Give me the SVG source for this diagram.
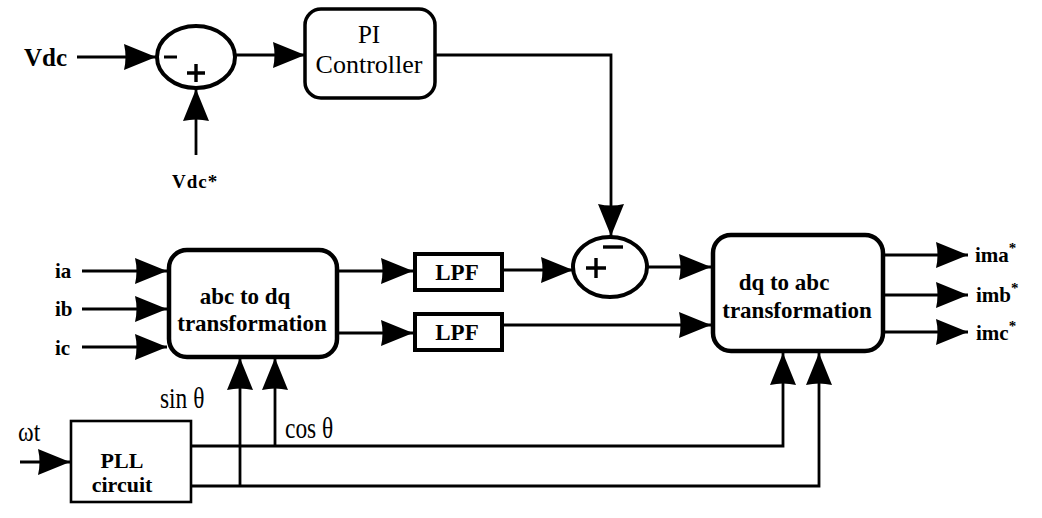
<svg xmlns="http://www.w3.org/2000/svg" width="1042" height="518" viewBox="0 0 1042 518">
<style>
.w{stroke:#000;stroke-width:2.8;fill:none}
.b{font-family:"Liberation Serif","Times New Roman",serif;font-weight:bold;fill:#000}
.r{font-family:"Liberation Serif","Times New Roman",serif;fill:#000}
</style>
<defs>
<marker id="a" markerUnits="userSpaceOnUse" markerWidth="32" markerHeight="26" refX="32" refY="13" orient="auto" viewBox="0 0 32 26">
<path d="M0,0 Q3,13 0,26 L32,13 Z" fill="#000"/>
</marker>
</defs>
<rect width="1042" height="518" fill="#fff"/>
<g id="connectors">
<path class="w" d="M77,57 H156" marker-end="url(#a)"/>
<path class="w" d="M196,155 V89" marker-end="url(#a)"/>
<path class="w" d="M236,55 H305" marker-end="url(#a)"/>
<path class="w" d="M435,55 H611 V236" marker-end="url(#a)"/>
<path class="w" d="M82,271 H167" marker-end="url(#a)"/>
<path class="w" d="M82,309 H167" marker-end="url(#a)"/>
<path class="w" d="M82,347 H167" marker-end="url(#a)"/>
<path class="w" d="M338,271 H413" marker-end="url(#a)"/>
<path class="w" d="M338,333 H413" marker-end="url(#a)"/>
<path class="w" d="M502,270 H573" marker-end="url(#a)"/>
<path class="w" d="M647,267 H711" marker-end="url(#a)"/>
<path class="w" d="M502,325 H711" marker-end="url(#a)"/>
<path class="w" d="M884,255 H968" marker-end="url(#a)"/>
<path class="w" d="M884,295 H968" marker-end="url(#a)"/>
<path class="w" d="M884,332 H968" marker-end="url(#a)"/>
<path class="w" d="M20,462 H70" marker-end="url(#a)"/>
<path class="w" d="M192,446 H783 V353" marker-end="url(#a)"/>
<path class="w" d="M192,486 H819 V353" marker-end="url(#a)"/>
<path class="w" d="M240,486 V358" marker-end="url(#a)"/>
<path class="w" d="M275,446 V358" marker-end="url(#a)"/>
</g>
<g id="vdc-label"><text class="b" x="24" y="66" font-size="25" font-family="Liberation Serif, serif">Vdc</text></g>
<g id="vdcstar-label"><text class="b" x="172" y="188" font-size="19" letter-spacing="1" font-family="Liberation Serif, serif">Vdc*</text></g>
<g id="sum1">
<ellipse cx="196" cy="57" rx="39" ry="31" fill="#fff" stroke="#000" stroke-width="4"/>
<path d="M164,57 H177" stroke="#000" stroke-width="3"/>
<path d="M187,73 H205 M196,64 V82" stroke="#000" stroke-width="3.4"/>
</g>
<g id="pi">
<rect x="305" y="9" width="130" height="89" rx="16" fill="#fff" stroke="#000" stroke-width="3.5"/>
<text class="r" x="369" y="43" font-size="25" text-anchor="middle" font-family="Liberation Serif, serif">PI</text>
<text class="r" x="369" y="73" font-size="26" text-anchor="middle" font-family="Liberation Serif, serif">Controller</text>
</g>
<g id="sum2">
<ellipse cx="610" cy="267" rx="37" ry="30" fill="#fff" stroke="#000" stroke-width="4"/>
<path d="M603,247 H623" stroke="#000" stroke-width="3.4"/>
<path d="M586,268 H606 M596,258 V278" stroke="#000" stroke-width="3.4"/>
</g>
<g id="inputs">
<text class="b" x="55" y="278" font-size="21" font-family="Liberation Serif, serif">ia</text>
<text class="b" x="55" y="316" font-size="21" font-family="Liberation Serif, serif">ib</text>
<text class="b" x="55" y="355" font-size="21" font-family="Liberation Serif, serif">ic</text>
</g>
<g id="abc2dq">
<rect x="169" y="250" width="168" height="107" rx="18" fill="#fff" stroke="#000" stroke-width="4.5"/>
<text class="b" x="245" y="304" font-size="23" text-anchor="middle" font-family="Liberation Serif, serif">abc to dq</text>
<text class="b" x="252" y="331" font-size="23" text-anchor="middle" font-family="Liberation Serif, serif">transformation</text>
</g>
<g id="lpf1">
<rect x="415" y="254" width="87" height="36" fill="#fff" stroke="#000" stroke-width="4"/>
<text class="b" x="457" y="280" font-size="23" text-anchor="middle" font-family="Liberation Serif, serif">LPF</text>
</g>
<g id="lpf2">
<rect x="415" y="314" width="87" height="36" fill="#fff" stroke="#000" stroke-width="4"/>
<text class="b" x="457" y="340" font-size="23" text-anchor="middle" font-family="Liberation Serif, serif">LPF</text>
</g>
<g id="dq2abc">
<rect x="713" y="235" width="170" height="116" rx="18" fill="#fff" stroke="#000" stroke-width="4.5"/>
<text class="b" x="784" y="290" font-size="23" text-anchor="middle" font-family="Liberation Serif, serif">dq to abc</text>
<text class="b" x="797" y="318" font-size="23" text-anchor="middle" font-family="Liberation Serif, serif">transformation</text>
</g>
<g id="outputs">
<text class="b" x="975" y="262" font-size="21" font-family="Liberation Serif, serif">ima<tspan dy="-9" font-size="15">*</tspan></text>
<text class="b" x="976" y="302" font-size="21" font-family="Liberation Serif, serif">imb<tspan dy="-9" font-size="15">*</tspan></text>
<text class="b" x="976" y="340" font-size="21" font-family="Liberation Serif, serif">imc<tspan dy="-9" font-size="15">*</tspan></text>
</g>
<g id="pll">
<rect x="71" y="421" width="120" height="81" fill="#fff" stroke="#000" stroke-width="2.6"/>
<text class="b" x="122" y="468" font-size="22" text-anchor="middle" font-family="Liberation Serif, serif">PLL</text>
<text class="b" x="122" y="492" font-size="22" text-anchor="middle" font-family="Liberation Serif, serif">circuit</text>
</g>
<g id="wt-label"><text class="r" x="18" y="441" font-size="28" font-family="Liberation Serif, serif" transform="translate(18 441) scale(0.85 1) translate(-18 -441)">ωt</text></g>
<g id="sin-label"><text class="r" x="160" y="408" font-size="30" font-family="Liberation Serif, serif" transform="translate(160 408) scale(0.78 1) translate(-160 -408)">sin θ</text></g>
<g id="cos-label"><text class="r" x="285" y="438" font-size="30" font-family="Liberation Serif, serif" transform="translate(285 438) scale(0.78 1) translate(-285 -438)">cos θ</text></g>
</svg>
